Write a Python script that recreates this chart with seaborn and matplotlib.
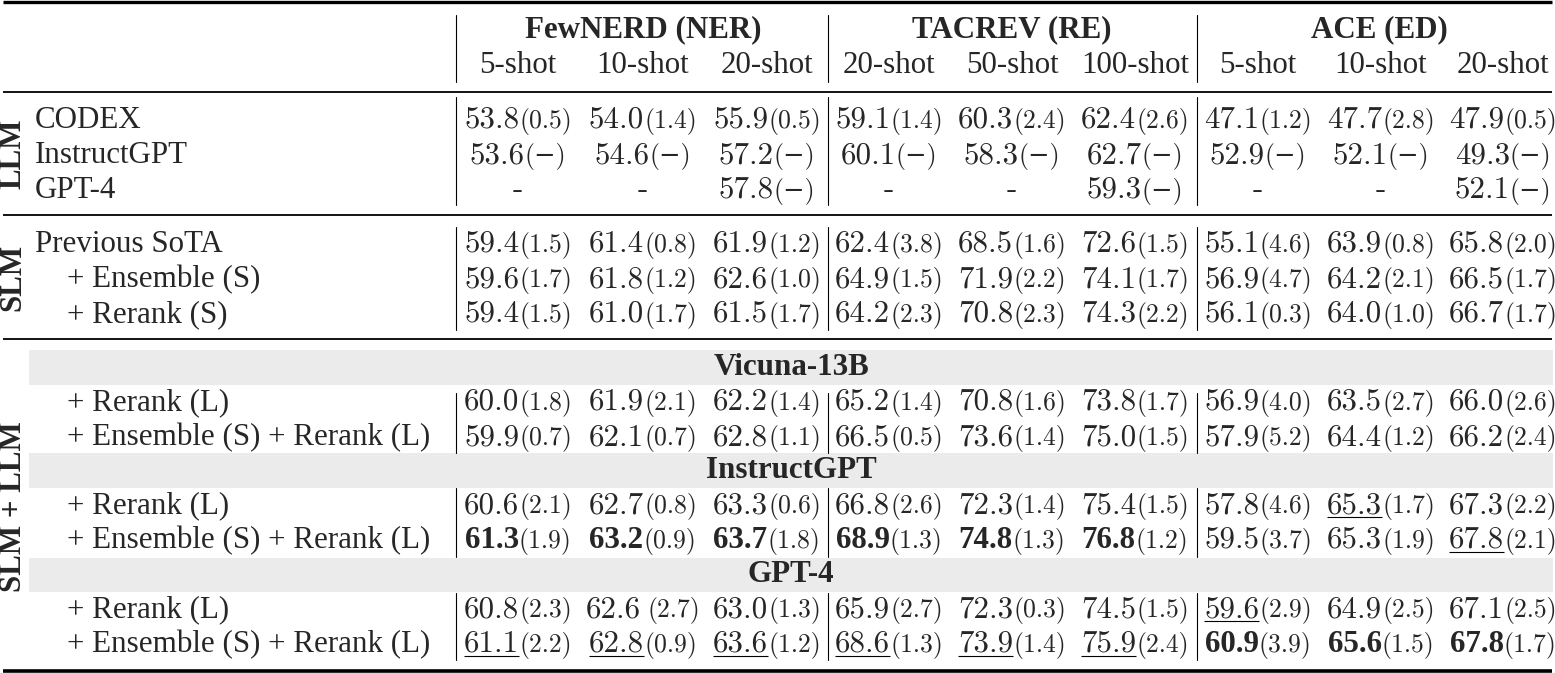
"""
Few-shot IE results table (FewNERD / TACREV / ACE) drawn as a figure.
"""
import matplotlib
matplotlib.use("Agg")
import matplotlib.pyplot as plt
import seaborn as sns

# ---------------------------------------------------------------------------
# data
# ---------------------------------------------------------------------------
datasets = ["FewNERD (NER)", "TACREV (RE)", "ACE (ED)"]
shots = ["5-shot", "10-shot", "20-shot",
         "20-shot", "50-shot", "100-shot",
         "5-shot", "10-shot", "20-shot"]

groups = ["LLM", "SLM", "SLM + LLM"]
llm_sub = ["Vicuna-13B", "InstructGPT", "GPT-4"]

# LLM block
codex_mean = ["53.8", "54.0", "55.9", "59.1", "60.3", "62.4", "47.1", "47.7", "47.9"]
codex_std = ["0.5", "1.4", "0.5", "1.4", "2.4", "2.6", "1.2", "2.8", "0.5"]
igpt_mean = ["53.6", "54.6", "57.2", "60.1", "58.3", "62.7", "52.9", "52.1", "49.3"]
igpt_std = ["−", "−", "−", "−", "−", "−", "−", "−", "−"]
gpt4_mean = ["-", "-", "57.8", "-", "-", "59.3", "-", "-", "52.1"]
gpt4_std = ["", "", "−", "", "", "−", "", "", "−"]

# SLM block
sota_mean = ["59.4", "61.4", "61.9", "62.4", "68.5", "72.6", "55.1", "63.9", "65.8"]
sota_std = ["1.5", "0.8", "1.2", "3.8", "1.6", "1.5", "4.6", "0.8", "2.0"]
ens_s_mean = ["59.6", "61.8", "62.6", "64.9", "71.9", "74.1", "56.9", "64.2", "66.5"]
ens_s_std = ["1.7", "1.2", "1.0", "1.5", "2.2", "1.7", "4.7", "2.1", "1.7"]
rr_s_mean = ["59.4", "61.0", "61.5", "64.2", "70.8", "74.3", "56.1", "64.0", "66.7"]
rr_s_std = ["1.5", "1.7", "1.7", "2.3", "2.3", "2.2", "0.3", "1.0", "1.7"]

# SLM + LLM block
vic_rr_mean = ["60.0", "61.9", "62.2", "65.2", "70.8", "73.8", "56.9", "63.5", "66.0"]
vic_rr_std = ["1.8", "2.1", "1.4", "1.4", "1.6", "1.7", "4.0", "2.7", "2.6"]
vic_er_mean = ["59.9", "62.1", "62.8", "66.5", "73.6", "75.0", "57.9", "64.4", "66.2"]
vic_er_std = ["0.7", "0.7", "1.1", "0.5", "1.4", "1.5", "5.2", "1.2", "2.4"]
igpt_rr_mean = ["60.6", "62.7", "63.3", "66.8", "72.3", "75.4", "57.8", "65.3", "67.3"]
igpt_rr_std = ["2.1", "0.8", "0.6", "2.6", "1.4", "1.5", "4.6", "1.7", "2.2"]
igpt_er_mean = ["61.3", "63.2", "63.7", "68.9", "74.8", "76.8", "59.5", "65.3", "67.8"]
igpt_er_std = ["1.9", "0.9", "1.8", "1.3", "1.3", "1.2", "3.7", "1.9", "2.1"]
gpt4_rr_mean = ["60.8", "62.6", "63.0", "65.9", "72.3", "74.5", "59.6", "64.9", "67.1"]
gpt4_rr_std = ["2.3", " 2.7", "1.3", "2.7", "0.3", "1.5", "2.9", "2.5", "2.5"]
gpt4_er_mean = ["61.1", "62.8", "63.6", "68.6", "73.9", "75.9", "60.9", "65.6", "67.8"]
gpt4_er_std = ["2.2", "0.9", "1.2", "1.3", "1.4", "2.4", "3.9", "1.5", "1.7"]

# b = bold (best), u = underline (second best)
plain = "........."
igpt_rr_mark = ".......u."
igpt_er_mark = "bbbbbb..u"
gpt4_rr_mark = "......u.."
gpt4_er_mark = "uuuuuubbb"

# ---------------------------------------------------------------------------
# layout (pixels, 1 data unit = 1 px)
# ---------------------------------------------------------------------------
W, H = 1555, 673
col_x = [518, 643, 767, 889, 1012, 1135, 1258, 1381, 1503]
head_x = [643, 1012, 1379]
sep_x = [456, 828, 1197]

FS = 22.3        # body text
FS_STD = 18.5    # small std in brackets
NUM_FONT = ["cmr10", "DejaVu Serif"]

sns.set_theme(style="white")
plt.rcParams["font.family"] = ["Liberation Serif", "DejaVu Serif"]

fig = plt.figure(figsize=(W / 100, H / 100), dpi=100)
ax = fig.add_axes([0, 0, 1, 1])
ax.set_xlim(0, W)
ax.set_ylim(H, 0)
ax.axis("off")
renderer = fig.canvas.get_renderer()


def width(t):
    return t.get_window_extent(renderer).width


def cell(cx, y, mean, std, mark):
    if mean == "-":
        ax.text(cx, y, "-", ha="center", va="baseline", fontsize=FS,
                family=NUM_FONT)
        return
    if mark == "b":
        m = ax.text(0, y, mean, va="baseline", fontsize=FS,
                    family="Liberation Serif", weight="bold")
    else:
        m = ax.text(0, y, mean, va="baseline", fontsize=FS, family=NUM_FONT)
    s = ax.text(0, y, "(" + std.strip() + ")", va="baseline",
                fontsize=FS_STD, family=NUM_FONT)
    gap = 7 if std.startswith(" ") else 0
    wm, ws = width(m), width(s)
    left = cx - (wm + gap + ws) / 2
    m.set_x(left)
    s.set_x(left + wm + gap)
    if mark == "u":
        ax.plot([left, left + wm], [y + 4, y + 4], color="black", lw=0.8,
                solid_capstyle="butt")


def row(y, label, indent, means, stds, marks):
    ax.text(67 if indent else 35, y, label, va="baseline", fontsize=FS)
    for cx, mn, sd, mk in zip(col_x, means, stds, marks):
        cell(cx, y, mn, sd, mk)


def vlines(y0, y1):
    for x in sep_x:
        ax.plot([x, x], [y0, y1], color="black", lw=0.8)


def hrule(y, lw):
    ax.plot([3, W - 3], [y, y], color="black", lw=lw, solid_capstyle="butt")


# rules
hrule(1.5, 2.4)
hrule(91.5, 1.3)
hrule(215, 1.3)
hrule(338.5, 1.3)
hrule(670.5, 2.6)

# header
vlines(15, 82)
for x, name in zip(head_x, datasets):
    ax.text(x, 37, name, ha="center", va="baseline", fontsize=FS, weight="bold")
for x, s in zip(col_x, shots):
    ax.text(x, 73, s, ha="center", va="baseline", fontsize=FS)

# LLM
vlines(97, 205)
row(128, "CODEX", False, codex_mean, codex_std, plain)
row(163, "InstructGPT", False, igpt_mean, igpt_std, plain)
row(198, "GPT-4", False, gpt4_mean, gpt4_std, plain)
ax.text(13, 154, groups[0], rotation=90, ha="center", va="center",
        fontsize=FS, weight="bold")

# SLM
vlines(227, 330)
row(252, "Previous SoTA", False, sota_mean, sota_std, plain)
row(287, "+ Ensemble (S)", True, ens_s_mean, ens_s_std, plain)
row(322, "+ Rerank (S)", True, rr_s_mean, rr_s_std, plain)
ax.text(13, 277, groups[1], rotation=90, ha="center", va="center",
        fontsize=FS, weight="bold")

# SLM + LLM
bands = [(350, 385), (453, 488), (558, 592)]
for (b0, b1), name in zip(bands, llm_sub):
    ax.fill_between([29, W - 2], b0, b1, color="#ebebeb", lw=0)
    ax.text((29 + W - 2) / 2, b1 - 10, name, ha="center", va="baseline",
            fontsize=FS, weight="bold")

vlines(393, 453)
row(410, "+ Rerank (L)", True, vic_rr_mean, vic_rr_std, plain)
row(445, "+ Ensemble (S) + Rerank (L)", True, vic_er_mean, vic_er_std, plain)
vlines(488, 557)
row(513, "+ Rerank (L)", True, igpt_rr_mean, igpt_rr_std, igpt_rr_mark)
row(548, "+ Ensemble (S) + Rerank (L)", True, igpt_er_mean, igpt_er_std, igpt_er_mark)
vlines(593, 660)
row(617, "+ Rerank (L)", True, gpt4_rr_mean, gpt4_rr_std, gpt4_rr_mark)
row(652, "+ Ensemble (S) + Rerank (L)", True, gpt4_er_mean, gpt4_er_std, gpt4_er_mark)
ax.text(14, 507, groups[2], rotation=90, ha="center", va="center",
        fontsize=FS, weight="bold")

fig.savefig("out.png", dpi=100)
